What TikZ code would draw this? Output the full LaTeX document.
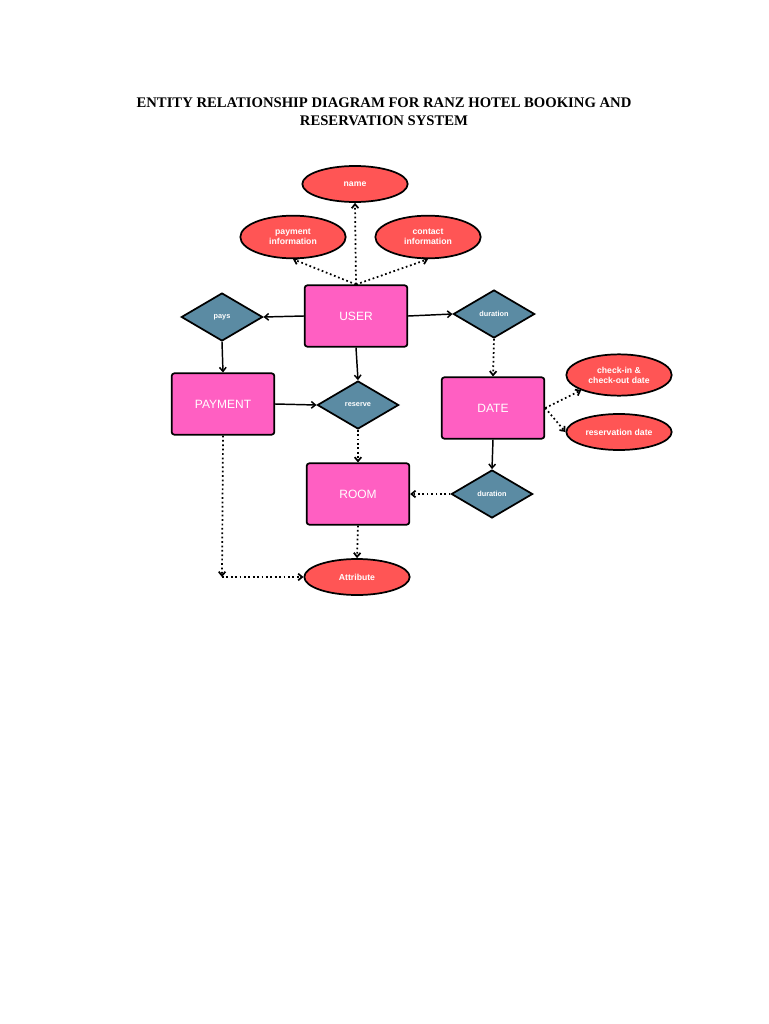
\documentclass[tikz,border=0pt]{standalone}
\usepackage{fontspec}
\setmainfont{Liberation Serif}
\newfontfamily\diag{Liberation Sans}
\usetikzlibrary{shapes.geometric,arrows.meta}
\definecolor{ent}{HTML}{FF5FC2}
\definecolor{att}{HTML}{FF5555}
\definecolor{rel}{HTML}{5B8BA3}
\begin{document}
\begin{tikzpicture}[x=0.75pt,y=-0.75pt,
  entity/.style={draw,line width=1.3pt,rounded corners=2pt,fill=ent,minimum width=77pt,minimum height=46pt,text=white,font=\diag\fontsize{9}{10}\selectfont},
  attr/.style={draw,line width=1.3pt,ellipse,fill=att,minimum width=79pt,minimum height=27pt,inner sep=0pt,text=white,font=\diag\bfseries\fontsize{6.5}{7.5}\selectfont,align=center},
  rel/.style={draw,line width=1.3pt,diamond,aspect=1.7,fill=rel,minimum width=61pt,minimum height=36pt,inner sep=0pt,text=white,font=\diag\bfseries\fontsize{5.5}{6}\selectfont},
  sol/.style={line width=1.1pt,-{Straight Barb[length=3pt,width=5pt]}},
  dot/.style={line width=1.3pt,dotted,-{Straight Barb[length=3pt,width=5pt]}}]
\useasboundingbox (0,0) rectangle (768,1024);
\node[font=\bfseries\fontsize{11}{13.5}\selectfont,align=center] (title) at (384,112) {ENTITY RELATIONSHIP DIAGRAM FOR RANZ HOTEL BOOKING AND\\RESERVATION SYSTEM};
\node[attr] (name) at (355,184) {name};
\node[attr,minimum height=32pt] (payi) at (293,237) {payment\\information};
\node[attr,minimum height=32pt] (cont) at (428,237) {contact\\information};
\node[entity] (user) at (356,316) {USER};
\node[rel] (pays) at (222,317) {pays};
\node[rel] (dur1) at (494,314) {duration};
\node[entity] (pay) at (223,404) {PAYMENT};
\node[rel] (res) at (358,405) {reserve};
\node[entity] (date) at (493,408) {DATE};
\node[attr,minimum height=31pt] (chk) at (619,375) {check-in \&\\check-out date};
\node[attr] (resd) at (619,432) {reservation date};
\node[entity] (room) at (358,494) {ROOM};
\node[rel] (dur2) at (492,494) {duration};
\node[attr] (attrib) at (357,577) {Attribute};
\coordinate (corner) at (222,577);
\draw[dot] (user.north) -- (name.south);
\draw[dot] (user.north) -- (payi.south);
\draw[dot] (user.north) -- (cont.south);
\draw[sol] (user.west) -- (pays.east);
\draw[sol] (user.east) -- (dur1.west);
\draw[sol] (pays.south) -- (pay.north);
\draw[sol] (user.south) -- (res.north);
\draw[sol] (pay.east) -- (res.west);
\draw[dot] (dur1.south) -- (date.north);
\draw[dot] (date.east) -- (chk.south west);
\draw[dot] (date.east) -- (resd.west);
\draw[dot] (res.south) -- (room.north);
\draw[sol] (date.south) -- (dur2.north);
\draw[dot] (dur2.west) -- (room.east);
\draw[dot] (room.south) -- (attrib.north);
\draw[dot] (pay.south) -- (corner);
\draw[dot] (corner) -- (attrib.west);
\end{tikzpicture}
\end{document}
